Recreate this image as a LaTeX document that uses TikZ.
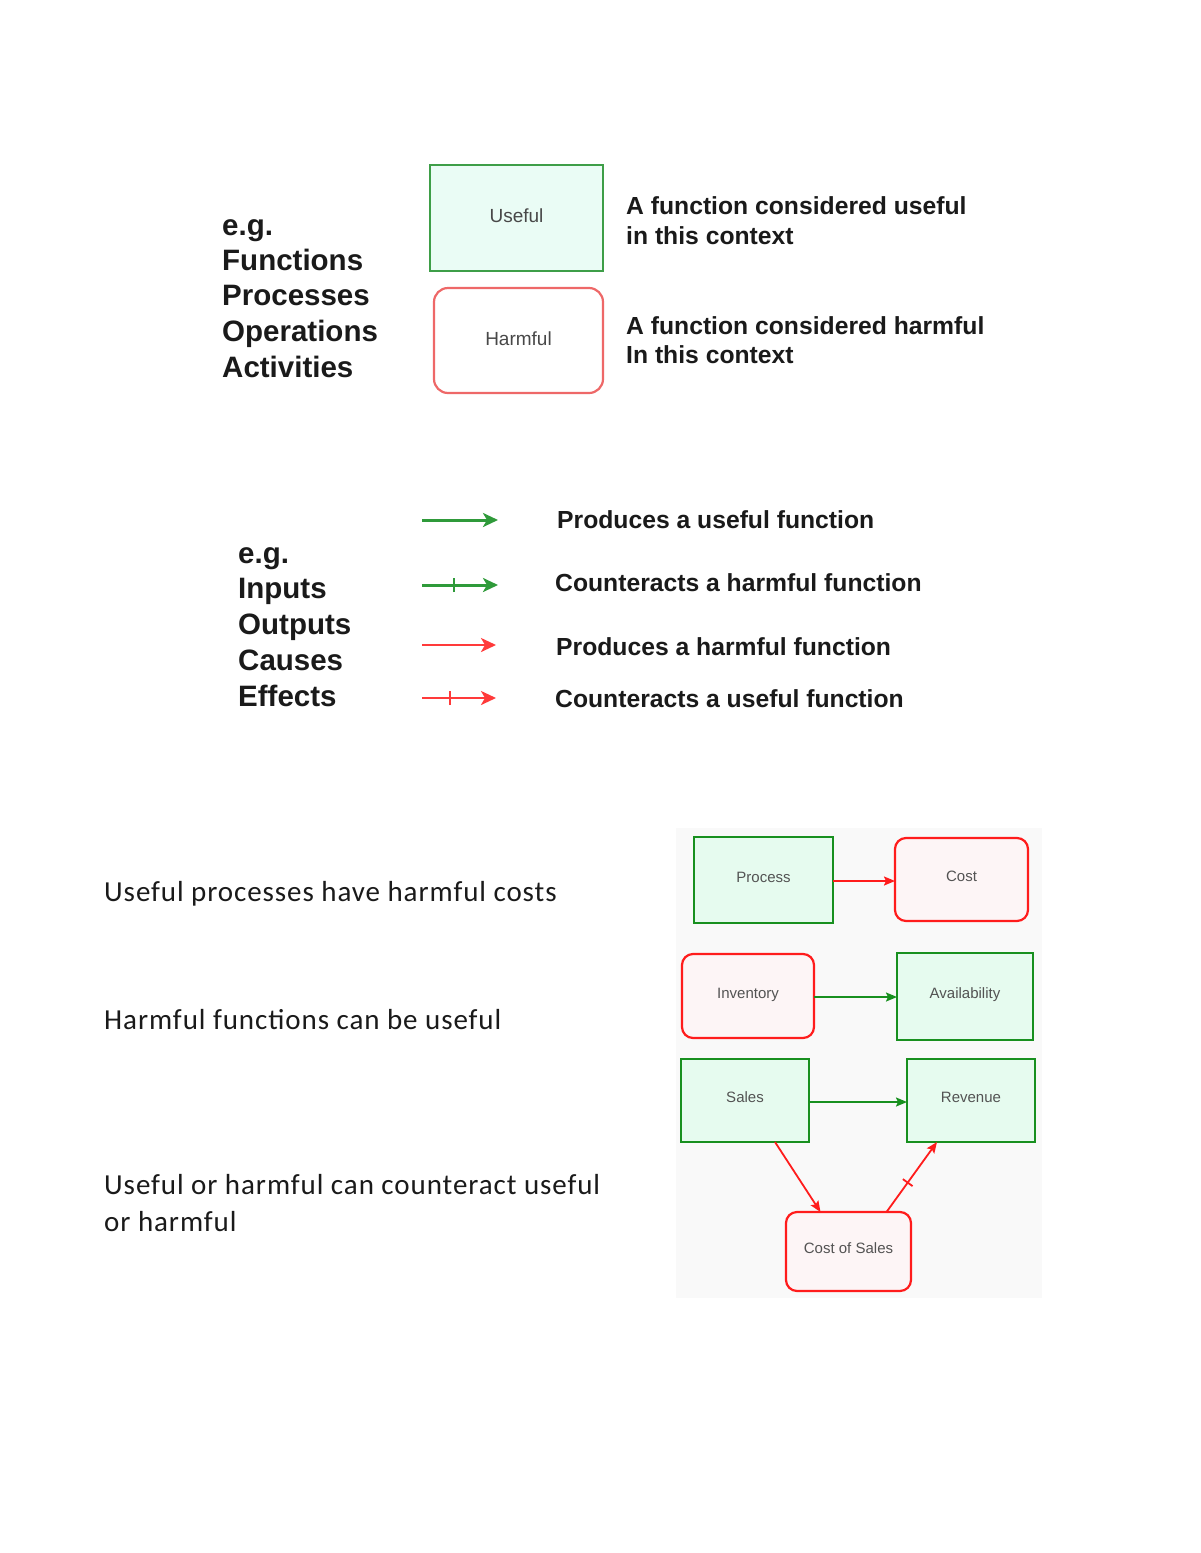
\documentclass[tikz,border=0pt]{standalone}
\usepackage{fontspec}
\setmainfont{Liberation Sans}
\newfontfamily\calib{Carlito}[LetterSpace=3.2]
\usetikzlibrary{arrows.meta,decorations.markings}
\definecolor{gbord}{HTML}{3E9E48}
\definecolor{gfill}{HTML}{EAFCF5}
\definecolor{rbord}{HTML}{EE6868}
\definecolor{dgreen}{HTML}{18901F}
\definecolor{dred}{HTML}{FF1C1C}
\definecolor{pfill}{HTML}{FDF5F6}
\definecolor{sgfill}{HTML}{E6FBEF}
\definecolor{lgreen}{HTML}{2F9A3A}
\definecolor{lred}{HTML}{FF3A3A}
\definecolor{txt}{HTML}{1A1A1A}
\definecolor{bgpanel}{HTML}{F9F9F9}
\begin{document}
\begin{tikzpicture}[x=1pt,y=-1pt,
  usebox/.style={draw=gbord, fill=gfill, line width=2pt, inner sep=0pt, outer sep=0pt,
    font=\fontsize{19}{22}\selectfont, text=txt!80},
  harmbox/.style={draw=rbord, fill=white, line width=2.2pt, rounded corners=14pt, inner sep=0pt, outer sep=0pt,
    font=\fontsize{19}{22}\selectfont, text=txt!80},
  sgbox/.style={draw=dgreen, fill=sgfill, line width=2.2pt, inner sep=0pt, outer sep=0pt,
    font=\fontsize{15}{18}\selectfont, text=txt!75},
  srbox/.style={draw=dred, fill=pfill, line width=2.2pt, rounded corners=11pt, inner sep=0pt, outer sep=0pt,
    font=\fontsize{15}{18}\selectfont, text=txt!75},
  biglist/.style={anchor=base west, inner sep=0pt, font=\bfseries\fontsize{29.5}{34}\selectfont, text=txt},
  desc/.style={anchor=base west, inner sep=0pt, font=\bfseries\fontsize{24.7}{30}\selectfont, text=txt},
  note/.style={anchor=base west, inner sep=0pt, font=\calib\fontsize{29}{34}\selectfont, text=txt},
  legg/.style={draw=lgreen, line width=3pt, -{Stealth[length=15pt,width=14pt,inset=4pt]}},
  legr/.style={draw=lred, line width=2.4pt, -{Stealth[length=15pt,width=14pt,inset=4pt]}},
  tickg/.style={postaction={decorate, decoration={markings, mark=at position #1 with {\draw[-, lgreen, line width=2pt] (0,-7pt) -- (0,7pt);}}}},
  tickr/.style={postaction={decorate, decoration={markings, mark=at position #1 with {\draw[-, lred, line width=2pt] (0,-7pt) -- (0,7pt);}}}},
  sarg/.style={draw=dgreen, line width=1.8pt, -{Stealth[length=11pt,width=9pt,inset=2pt]}},
  sarr/.style={draw=dred, line width=1.8pt, -{Stealth[length=11pt,width=9pt,inset=2pt]}},
  stickr/.style={postaction={decorate, decoration={markings, mark=at position #1 with {\draw[-, dred, line width=1.8pt] (0,-6pt) -- (0,6pt);}}}}
]
\useasboundingbox[fill=white] (0,0) rectangle (1200,1553);

% ---------- top section ----------
\node[biglist] (t1) at (222,235) {e.g.};
\node[biglist] (t2) at (222,270) {Functions};
\node[biglist] (t3) at (222,305) {Processes};
\node[biglist] (t4) at (222,341) {Operations};
\node[biglist] (t5) at (222,377) {Activities};

\node[usebox, minimum width=173pt, minimum height=106pt] (useful) at (516.5,218) {\raisebox{5pt}{Useful}};
\node[harmbox, minimum width=169pt, minimum height=105pt] (harmful) at (518.5,340.5) {\raisebox{4pt}{Harmful}};

\node[desc] (d1) at (626,214) {A function considered useful};
\node[desc] (d2) at (626,244) {in this context};
\node[desc] (d3) at (626,334) {A function considered harmful};
\node[desc] (d4) at (626,363) {In this context};

% ---------- legend section ----------
\node[biglist] (m1) at (238,563) {e.g.};
\node[biglist] (m2) at (238,598) {Inputs};
\node[biglist] (m3) at (238,634) {Outputs};
\node[biglist] (m4) at (238,670) {Causes};
\node[biglist] (m5) at (238,706) {Effects};

\coordinate (a1s) at (422,520); \coordinate (a1e) at (498,520);
\coordinate (a2s) at (422,585); \coordinate (a2e) at (498,585);
\coordinate (a3s) at (422,645); \coordinate (a3e) at (496,645);
\coordinate (a4s) at (422,698); \coordinate (a4e) at (496,698);
\draw[legg] (a1s) -- (a1e);
\draw[legg, tickg=0.42] (a2s) -- (a2e);
\draw[legr] (a3s) -- (a3e);
\draw[legr, tickr=0.38] (a4s) -- (a4e);

\node[desc] (l1) at (557,528) {Produces a useful function};
\node[desc] (l2) at (555,591) {Counteracts a harmful function};
\node[desc] (l3) at (556,655) {Produces a harmful function};
\node[desc] (l4) at (555,707) {Counteracts a useful function};

% ---------- bottom section ----------
\node[note] (n1) at (104,901) {Useful processes have harmful costs};
\node[note] (n2) at (104,1029) {Harmful functions can be useful};
\node[note] (n3) at (104,1194) {Useful or harmful can counteract useful};
\node[note] (n4) at (104,1231) {or harmful};

\fill[bgpanel] (676,828) rectangle (1042,1298);

\node[sgbox, minimum width=139pt, minimum height=86pt] (process) at (763.5,880) {\raisebox{6pt}{Process}};
\node[srbox, minimum width=133pt, minimum height=83pt] (cost) at (961.5,879.5) {\raisebox{6pt}{Cost}};
\node[srbox, minimum width=132pt, minimum height=84pt] (inventory) at (748,996) {\raisebox{6pt}{Inventory}};
\node[sgbox, minimum width=136pt, minimum height=87pt] (avail) at (965,996.5) {\raisebox{6pt}{Availability}};
\node[sgbox, minimum width=128pt, minimum height=83pt] (sales) at (745,1100.5) {\raisebox{7pt}{Sales}};
\node[sgbox, minimum width=128pt, minimum height=83pt] (revenue) at (971,1100.5) {\raisebox{7pt}{Revenue}};
\node[srbox, minimum width=125pt, minimum height=79pt] (cos) at (848.5,1251.5) {\raisebox{6pt}{Cost of Sales}};

\draw[sarr] (process.east |- 0,881) -- (cost.west |- 0,881);
\draw[sarg] (inventory.east |- 0,997) -- (avail.west |- 0,997);
\draw[sarg] (sales.east |- 0,1102) -- (revenue.west |- 0,1102);
\draw[sarr] ([xshift=30pt]sales.south) -- ([xshift=-28pt]cos.north);
\draw[sarr, stickr=0.42] ([xshift=38pt]cos.north) -- ([xshift=-34pt]revenue.south);
\end{tikzpicture}
\end{document}
